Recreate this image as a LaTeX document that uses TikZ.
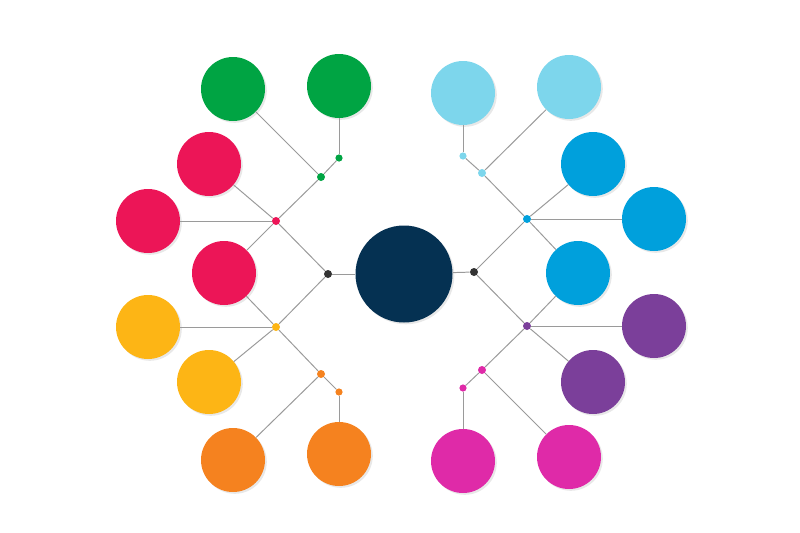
\documentclass[tikz,border=0pt]{standalone}
\definecolor{NavyMap}{HTML}{053152}
\definecolor{GreenMap}{HTML}{00A443}
\definecolor{RedMap}{HTML}{EC1557}
\definecolor{YellowMap}{HTML}{FDB515}
\definecolor{OrangeMap}{HTML}{F5821F}
\definecolor{SkyMap}{HTML}{7DD6EC}
\definecolor{BlueMap}{HTML}{00A0DC}
\definecolor{PurpleMap}{HTML}{7B3F9A}
\definecolor{MagentaMap}{HTML}{DF2AA8}
\definecolor{GrisLien}{HTML}{9A9A9A}
\usepackage{tikz}
\usetikzlibrary{shadows}
\usetikzlibrary{positioning}

\begin{document}
\begin{tikzpicture}[x=0.25mm, y=-0.25mm,
	bubble/.style={circle, minimum size=16mm, inner sep=0pt,
		drop shadow={opacity=.18, shadow xshift=.45mm, shadow yshift=-.45mm}},
	knot/.style={circle, minimum size=2mm, inner sep=0pt},
	link/.style={draw=GrisLien, line width=.7pt}]
	\useasboundingbox (0,0) rectangle (800,533);
	%
	%Centre
	\node[bubble, minimum size=24.25mm, fill=NavyMap] (Centre) at (404,274) {};
	\node[knot, fill=black!80] (HubL) at (328,274) {};
	\node[knot, fill=black!80] (HubR) at (474,272) {};
	%
	%Gauche
	\node[knot, fill=RedMap] (DotRed) at (276,221) {};
	\node[knot, fill=YellowMap] (DotYel) at (276,327) {};
	\node[knot, fill=GreenMap] (DotGrA) at (321,177) {};
	\node[knot, fill=GreenMap, minimum size=1.8mm] (DotGrB) at (339,158) {};
	\node[knot, fill=OrangeMap] (DotOrA) at (321,374) {};
	\node[knot, fill=OrangeMap, minimum size=1.8mm] (DotOrB) at (339,392) {};
	\node[bubble, fill=GreenMap] (GreenA) at (233,89) {};
	\node[bubble, fill=GreenMap] (GreenB) at (339,86) {};
	\node[bubble, fill=RedMap] (RedA) at (209,164) {};
	\node[bubble, fill=RedMap] (RedB) at (148,221) {};
	\node[bubble, fill=RedMap] (RedC) at (224,273) {};
	\node[bubble, fill=YellowMap] (YelA) at (148,327) {};
	\node[bubble, fill=YellowMap] (YelB) at (209,382) {};
	\node[bubble, fill=OrangeMap] (OrA) at (233,460) {};
	\node[bubble, fill=OrangeMap] (OrB) at (339,454) {};
	%
	%Droite
	\node[knot, fill=BlueMap] (DotBlue) at (527,219) {};
	\node[knot, fill=PurpleMap] (DotPur) at (527,326) {};
	\node[knot, fill=SkyMap] (DotSkA) at (482,173) {};
	\node[knot, fill=SkyMap, minimum size=1.8mm] (DotSkB) at (463,156) {};
	\node[knot, fill=MagentaMap] (DotMgA) at (482,370) {};
	\node[knot, fill=MagentaMap, minimum size=1.8mm] (DotMgB) at (463,388) {};
	\node[bubble, fill=SkyMap] (SkyA) at (569,87) {};
	\node[bubble, fill=SkyMap] (SkyB) at (463,93) {};
	\node[bubble, fill=BlueMap] (BlueA) at (593,164) {};
	\node[bubble, fill=BlueMap] (BlueB) at (654,219) {};
	\node[bubble, fill=BlueMap] (BlueC) at (578,273) {};
	\node[bubble, fill=PurpleMap] (PurA) at (654,326) {};
	\node[bubble, fill=PurpleMap] (PurB) at (593,382) {};
	\node[bubble, fill=MagentaMap] (MagA) at (569,457) {};
	\node[bubble, fill=MagentaMap] (MagB) at (463,461) {};
	%
	%Liens
	\draw[link] (HubL) -- (Centre);
	\draw[link] (HubR) -- (Centre);
	\draw[link] (HubL) -- (DotRed);
	\draw[link] (HubL) -- (DotYel);
	\draw[link] (HubR) -- (DotBlue);
	\draw[link] (HubR) -- (DotPur);
	%
	\draw[link] (DotRed) -- (RedA);
	\draw[link] (DotRed) -- (RedB);
	\draw[link] (DotRed) -- (RedC);
	\draw[link] (DotRed) -- (DotGrA);
	\draw[link] (DotGrA) -- (DotGrB);
	\draw[link] (DotGrA) -- (GreenA);
	\draw[link] (DotGrB) -- (GreenB);
	\draw[link] (DotYel) -- (RedC);
	\draw[link] (DotYel) -- (YelA);
	\draw[link] (DotYel) -- (YelB);
	\draw[link] (DotYel) -- (DotOrA);
	\draw[link] (DotOrA) -- (DotOrB);
	\draw[link] (DotOrA) -- (OrA);
	\draw[link] (DotOrB) -- (OrB);
	%
	\draw[link] (DotBlue) -- (BlueA);
	\draw[link] (DotBlue) -- (BlueB);
	\draw[link] (DotBlue) -- (BlueC);
	\draw[link] (DotBlue) -- (DotSkA);
	\draw[link] (DotSkA) -- (DotSkB);
	\draw[link] (DotSkA) -- (SkyA);
	\draw[link] (DotSkB) -- (SkyB);
	\draw[link] (DotPur) -- (BlueC);
	\draw[link] (DotPur) -- (PurA);
	\draw[link] (DotPur) -- (PurB);
	\draw[link] (DotPur) -- (DotMgA);
	\draw[link] (DotMgA) -- (DotMgB);
	\draw[link] (DotMgA) -- (MagA);
	\draw[link] (DotMgB) -- (MagB);
	%
\end{tikzpicture}
\end{document}
